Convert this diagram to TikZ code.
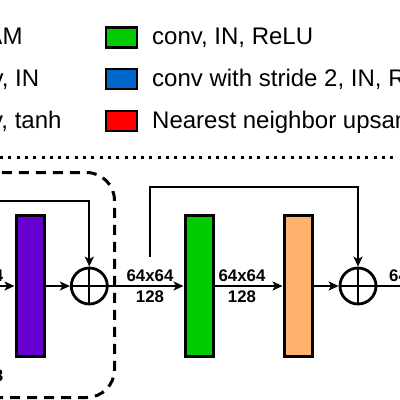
\documentclass[tikz,border=0pt]{standalone}
\usepackage{fontspec}
\setmainfont{Liberation Sans}
\usetikzlibrary{arrows.meta}
\definecolor{cgreen}{RGB}{0,204,0}
\definecolor{cblue}{RGB}{0,102,204}
\definecolor{cred}{RGB}{255,0,0}
\definecolor{cpurple}{RGB}{102,0,210}
\definecolor{corange}{RGB}{255,178,107}
\tikzset{
  blockbox/.style={draw=black, line width=3pt, minimum width=28pt, minimum height=141pt, inner sep=0pt},
  legbox/.style={draw=black, line width=2.5pt, minimum width=31pt, minimum height=20pt, inner sep=0pt},
  legtext/.style={inner sep=0pt, font=\fontsize{24}{28}\selectfont},
  dimlabel/.style={inner sep=0pt, font=\fontsize{16.8}{20}\selectfont\bfseries, align=center},
  sumnode/.style={draw=black, circle, line width=2.8pt, minimum size=36pt, inner sep=0pt},
  conn/.style={line width=1.8pt, -{Stealth[length=10pt,width=9pt,inset=2.5pt]}},
  plain/.style={line width=1.8pt},
}
\begin{document}
\begin{tikzpicture}[x=1pt,y=-1pt]
\useasboundingbox (0,0) rectangle (400,400);
\clip (0,0) rectangle (400,400);
% legend right column
\node[legbox, fill=cgreen] (lg) at (121.5,37.5) {};
\node[legbox, fill=cblue] (lb) at (121.5,79) {};
\node[legbox, fill=cred] (lr) at (121.5,121) {};
\node[legtext, anchor=base west] (tg) at (152,44) {conv, IN, ReLU};
\node[legtext, anchor=base west] (tb) at (152,86) {conv with stride 2, IN, ReLU};
\node[legtext, anchor=base west] (tr) at (152,128.3) {Nearest neighbor upsampling};
% legend left column (cropped)
\node[legtext, anchor=base east] (t1) at (22.7,44) {CBAM};
\node[legtext, anchor=base east] (t2) at (39.3,86) {conv, IN};
\node[legtext, anchor=base east] (t3) at (61.7,128.3) {conv, tanh};
% dotted separator
\draw[line width=3pt, dash pattern=on 3pt off 5.3pt] (0,157) -- (397,157);
% dashed group
\draw[line width=3pt, dash pattern=on 10pt off 7pt, rounded corners=28pt] (-60,172.5) rectangle (114.5,397.5);
% blocks
\node[blockbox, fill=cpurple] (p) at (30,286) {};
\node[blockbox, fill=cgreen] (g) at (199,286) {};
\node[blockbox, fill=corange] (o) at (298,286) {};
\node[sumnode] (s1) at (89.3,286) {};
\node[sumnode] (s2) at (358,286) {};
\draw[plain] (s1.north) -- (s1.south) (s1.west) -- (s1.east);
\draw[plain] (s2.north) -- (s2.south) (s2.west) -- (s2.east);
% coordinates
\coordinate (inL) at (0,286);
\coordinate (sk1) at (0,201);
\coordinate (sk1c) at (89.3,201);
\coordinate (sk2a) at (150,257);
\coordinate (sk2b) at (150,187);
\coordinate (sk2c) at (358,187);
\coordinate (outR) at (400,286);
% connectors
\draw[conn] (inL) -- (p.west);
\draw[conn] (sk1) -- (sk1c) -- (s1.north);
\draw[conn] (p.east) -- (s1.west);
\draw[conn] (s1.east) -- (g.west);
\draw[conn] (sk2a) -- (sk2b) -- (sk2c) -- (s2.north);
\draw[conn] (g.east) -- (o.west);
\draw[conn] (o.east) -- (s2.west);
\draw[plain] (s2.east) -- (outR);
% dimension labels
\node[dimlabel, anchor=base] (d1a) at (150,281) {64x64};
\node[dimlabel, anchor=base] (d1b) at (150,302) {128};
\node[dimlabel, anchor=base] (d2a) at (242,281) {64x64};
\node[dimlabel, anchor=base] (d2b) at (242,302) {128};
\node[dimlabel, anchor=base east] (d0) at (3.5,281) {64x64};
\node[dimlabel, anchor=base west] (d3) at (389,281) {64x64};
\node[dimlabel, anchor=base east] (d4) at (3.5,381) {8};
\end{tikzpicture}
\end{document}
